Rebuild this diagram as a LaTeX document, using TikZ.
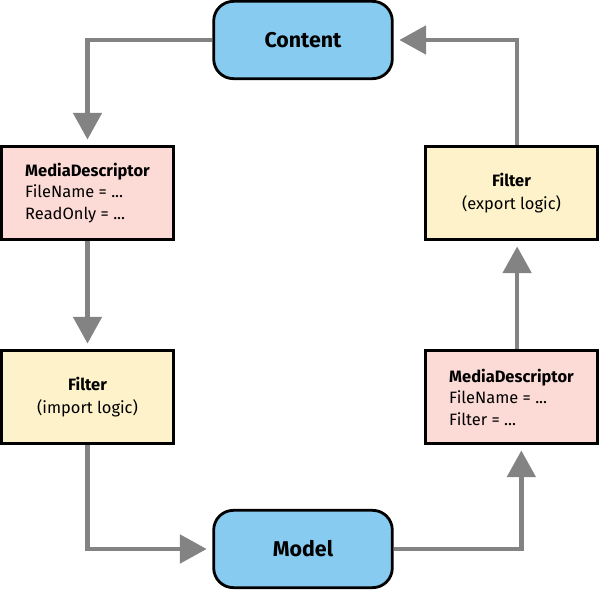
\documentclass[tikz,border=0pt]{standalone}
\usepackage{fontspec}
\setmainfont{Fira Sans}
\usepackage{xcolor}
\usetikzlibrary{arrows.meta,positioning}
\definecolor{docblue}{HTML}{88CBF0}
\definecolor{descpink}{HTML}{FCDAD5}
\definecolor{filteryellow}{HTML}{FEF2CA}
\definecolor{flowgray}{HTML}{838383}

\begin{document}
\begin{tikzpicture}[x=0.025cm, y=-0.025cm,
        doc/.style={rectangle, rounded corners=14pt, draw, line width=2pt, fill=docblue, minimum width=127pt, minimum height=55pt, font=\fontsize{15.2}{18}\selectfont\bfseries},
        desc/.style={rectangle, draw, line width=2pt, fill=descpink, minimum width=122pt, minimum height=66pt, align=left, font=\fontsize{11.7}{15.3}\selectfont},
        filt/.style={rectangle, draw, line width=2pt, fill=filteryellow, minimum width=122pt, minimum height=66pt, align=center, font=\fontsize{11.7}{16.5}\selectfont},
        arrow/.style={-{Triangle[width=20pt,length=19pt]}, line width=3.3pt, flowgray, shorten >=4pt}
    ]
        \useasboundingbox (0,0) rectangle (600,590);
        \node[doc] (content) at (303,40) {Content};
        \node[doc] (model) at (303,549) {Model};
        \node[desc] (mdin) at (87.5,193) {\textbf{MediaDescriptor}\\FileName = ...\\ReadOnly = ...};
        \node[filt] (fin) at (87.5,397) {\textbf{Filter}\\(import logic)};
        \node[desc] (mdout) at (511.5,397) {\textbf{MediaDescriptor}\\FileName = ...\\Filter = ...};
        \node[filt] (fout) at (511.5,193) {\textbf{Filter}\\(export logic)};

        \draw[arrow] (content.west) -| (mdin.north);
        \draw[arrow] (mdin) -- (fin);
        \draw[arrow] (fin.south) |- (model.west);
        \draw[arrow] (model.east) -| ([xshift=7pt]mdout.south);
        \draw[arrow] ([xshift=4pt]mdout.north) -- ([xshift=4pt]fout.south);
        \draw[arrow] ([xshift=4pt]fout.north) |- (content.east);
    \end{tikzpicture}
\end{document}
